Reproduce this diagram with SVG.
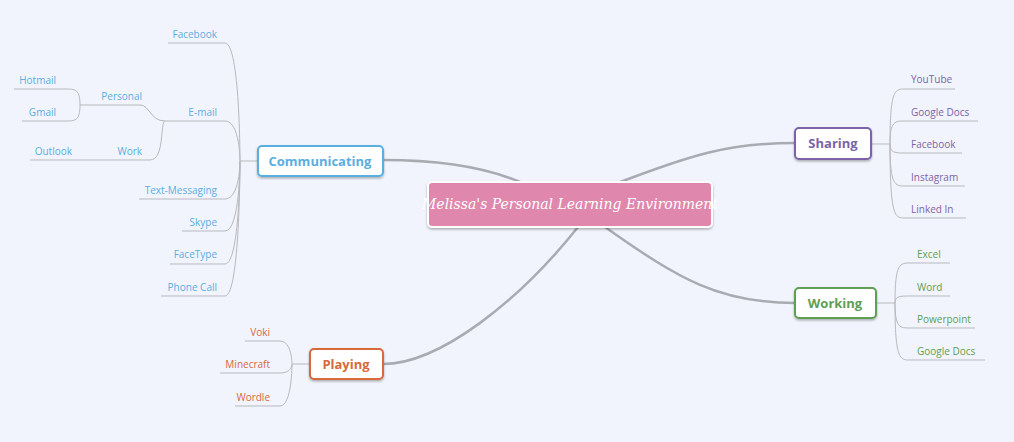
<svg xmlns="http://www.w3.org/2000/svg" width="1014" height="442" viewBox="0 0 1014 442">
<style>
text{font-family:"Open Sans","DejaVu Sans",sans-serif;font-size:10px}
.b{fill:#5aaee0}.p{fill:#7b63a8}.g{fill:#5e9e52}.o{fill:#d8693a}
.l{fill:none;stroke:#b8b9be;stroke-width:1}
.m{fill:none;stroke:#a9abb3;stroke-width:2.5}
.t{font-size:13px;font-weight:bold;text-anchor:middle}
</style>
<defs><filter id="s" x="-10%" y="-20%" width="120%" height="150%"><feDropShadow dx="0" dy="1.5" stdDeviation="1.2" flood-color="#000" flood-opacity="0.3"/></filter></defs>
<rect width="1014" height="442" fill="#f1f4fc"/>
<g id="connectors">
<path class="m" d="M520 182 C480 165 430 160 383 160"/>
<path class="m" d="M620 182 C680 160 720 143 795 143"/>
<path class="m" d="M605 227 C680 280 720 303 795 303"/>
<path class="m" d="M578 227 C520 300 440 364 383 364"/>
<g class="l">
<path d="M258 161 H240"/>
<path d="M168 43 H225 C240 43 240 161 240 161"/>
<path d="M165 121 H225 C240 121 240 161 240 161"/>
<path d="M139 199 H225 C240 199 240 161 240 161"/>
<path d="M182 231 H225 C240 231 240 161 240 161"/>
<path d="M170 264 H225 C240 264 240 161 240 161"/>
<path d="M161 296 H225 C240 296 240 161 240 161"/>
<path d="M165 121 C150 121 150 105 140 105 H95"/>
<path d="M165 121 C160 121 165 160 150 160 H30"/>
<path d="M95 105 H80 C80 89 75 89 65 89 H14"/>
<path d="M80 105 C80 121 75 121 65 121 H22"/>
<path d="M871 144 H890"/>
<path d="M890 144 C890 89 895 89 905 89 H955"/>
<path d="M890 144 C890 121 895 121 905 121 H978"/>
<path d="M890 144 C890 153 895 153 905 153 H962"/>
<path d="M890 144 C890 186 895 186 905 186 H965"/>
<path d="M890 144 C890 218 895 218 905 218 H966"/>
<path d="M876 303 H895"/>
<path d="M895 303 C895 263 900 263 910 263 H950"/>
<path d="M895 303 C895 296 900 296 910 296 H950"/>
<path d="M895 303 C895 328 900 328 910 328 H975"/>
<path d="M895 303 C895 360 900 360 910 360 H985"/>
<path d="M310 364 H292"/>
<path d="M245 341 H280 C292 341 292 364 292 364"/>
<path d="M220 373 H280 C292 373 292 364 292 364"/>
<path d="M235 406 H280 C292 406 292 364 292 364"/>
</g>
</g>
<g id="center"><rect x="428" y="182" width="284" height="45" rx="4" fill="#df87ad" stroke="#fff" stroke-width="2" filter="url(#s)"/><text x="570" y="209" text-anchor="middle" fill="#fff" style="font-family:'DejaVu Serif',serif;font-style:italic;font-size:14px">Melissa's Personal Learning Environment</text></g>
<g id="communicating"><rect x="258" y="146" width="125" height="30" rx="4" fill="#fff" stroke="#5aaee0" stroke-width="2" filter="url(#s)"/><text class="t b" x="320" y="166">Communicating</text></g>
<g id="sharing"><rect x="795" y="128" width="76" height="31" rx="4" fill="#fff" stroke="#7b63a8" stroke-width="2" filter="url(#s)"/><text class="t p" x="833" y="148">Sharing</text></g>
<g id="working"><rect x="795" y="288" width="81" height="30" rx="4" fill="#fff" stroke="#5e9e52" stroke-width="2" filter="url(#s)"/><text class="t g" x="835" y="308">Working</text></g>
<g id="playing"><rect x="310" y="349" width="73" height="30" rx="4" fill="#fff" stroke="#d8693a" stroke-width="2" filter="url(#s)"/><text class="t o" x="346" y="369">Playing</text></g>
<g id="comm-leaves" class="b" text-anchor="end">
<text x="217" y="38">Facebook</text><text x="217" y="116">E-mail</text><text x="217" y="194">Text-Messaging</text><text x="217" y="226">Skype</text><text x="217" y="258">FaceType</text><text x="217" y="291">Phone Call</text>
<text x="142" y="100">Personal</text><text x="142" y="155">Work</text>
<text x="56" y="84">Hotmail</text><text x="56" y="116">Gmail</text><text x="72" y="155">Outlook</text>
</g>
<g id="share-leaves" class="p"><text x="911" y="83">YouTube</text><text x="911" y="116">Google Docs</text><text x="911" y="148">Facebook</text><text x="911" y="181">Instagram</text><text x="911" y="213">Linked In</text></g>
<g id="work-leaves" class="g"><text x="917" y="258">Excel</text><text x="917" y="291">Word</text><text x="917" y="323">Powerpoint</text><text x="917" y="355">Google Docs</text></g>
<g id="play-leaves" class="o" text-anchor="end"><text x="270" y="336">Voki</text><text x="270" y="368">Minecraft</text><text x="270" y="401">Wordle</text></g>
</svg>
